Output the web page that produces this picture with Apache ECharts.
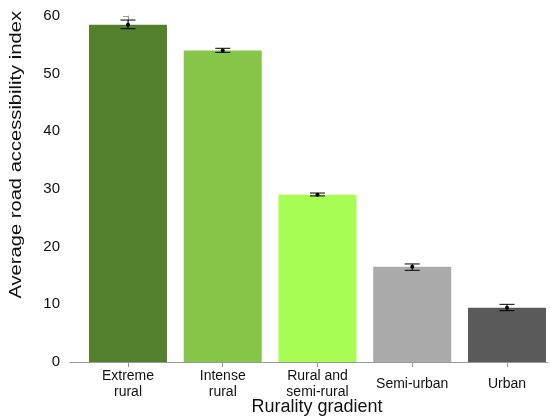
<!DOCTYPE html>
<html>
<head>
<meta charset="utf-8">
<script src="https://cdn.jsdelivr.net/npm/echarts@6/dist/echarts.min.js"></script>
<style>
html,body{margin:0;padding:0;background:#fff;}
#chart{width:550px;height:420px;}
</style>
</head>
<body>
<div id="chart"></div>
<script>
// rurality classes and their mean index with error bar bounds
var categories = ['Extreme\nrural', 'Intense\nrural', 'Rural and\nsemi-rural', 'Semi-urban', 'Urban'];
var means = [58.5, 54.0, 29.0, 16.5, 9.4];
var errLow = [57.8, 53.7, 28.8, 15.9, 8.9];
var errHigh = [59.3, 54.4, 29.3, 17.0, 10.0];
var barColors = ['#52802d', '#86c548', '#a8fd55', '#aaaaaa', '#5a5a5a'];

var chart = echarts.init(document.getElementById('chart'));

var positions = [];
var barData = [];
var errData = [];
for (var i = 0; i < means.length; i++) {
    positions.push(i);
    barData.push({value: [i, means[i]], itemStyle: {color: barColors[i]}});
    errData.push([i, errLow[i], errHigh[i], means[i]]);
}

function renderError(params, api) {
    var x = api.value(0);
    var lo = api.coord([x, api.value(1)]);
    var hi = api.coord([x, api.value(2)]);
    var mid = api.coord([x, api.value(3)]);
    var half = 7.5;
    var st = {stroke: '#000', lineWidth: 1};
    return {
        type: 'group',
        children: [
            {type: 'line', shape: {x1: hi[0], y1: hi[1], x2: lo[0], y2: lo[1]}, style: st},
            {type: 'line', shape: {x1: hi[0] - half, y1: hi[1], x2: hi[0] + half, y2: hi[1]}, style: st},
            {type: 'line', shape: {x1: lo[0] - half, y1: lo[1], x2: lo[0] + half, y2: lo[1]}, style: st},
            {type: 'circle', shape: {cx: mid[0], cy: mid[1], r: 2}, style: {fill: '#000'}}
        ]
    };
}

var font = 'Liberation Sans, Arial, sans-serif';
var option = {
    animation: false,
    backgroundColor: '#fff',
    textStyle: {fontFamily: font},
    grid: {left: 70, right: 2, top: 16, bottom: 58, containLabel: false, outerBoundsMode: 'none'},
    xAxis: {
        type: 'value',
        min: -0.612,
        max: 4.433,
        name: 'Rurality gradient',
        nameLocation: 'middle',
        nameGap: 36,
        nameMoveOverlap: false,
        nameTextStyle: {fontSize: 18, color: '#111', padding: [0, 0, 0, 16]},
        splitLine: {show: false},
        axisLine: {show: true, onZero: false, lineStyle: {color: '#999', width: 1}},
        axisTick: {show: true, length: 5, customValues: positions, lineStyle: {color: '#999'}},
        axisLabel: {
            fontSize: 14, color: '#111', margin: 22, lineHeight: 16,
            verticalAlign: 'middle',
            customValues: positions,
            formatter: function (v) { return categories[Math.round(v)]; }
        }
    },
    yAxis: {
        type: 'value',
        min: 0,
        max: 60,
        interval: 10,
        axisLine: {show: true, lineStyle: {color: '#999', width: 1}},
        axisTick: {show: true, length: 5, lineStyle: {color: '#999'}},
        minorTick: {show: true, splitNumber: 2, length: 5, lineStyle: {color: '#bbb'}},
        splitLine: {show: false},
        axisLabel: {fontSize: 15, color: '#111', margin: 10}
    },
    graphic: [{
        type: 'text',
        left: 9,
        top: 11,
        rotation: Math.PI / 2,
        scaleX: 1.26,
        style: {
            text: 'Average road accessibility index',
            fontSize: 16,
            fill: '#111',
            fontFamily: font
        }
    }],
    series: [{
        type: 'bar',
        data: barData,
        barWidth: 78
    }, {
        type: 'custom',
        renderItem: renderError,
        data: errData,
        encode: {x: 0, y: [1, 2]},
        z: 10
    }]
};
chart.setOption(option);
</script>
</body>
</html>
